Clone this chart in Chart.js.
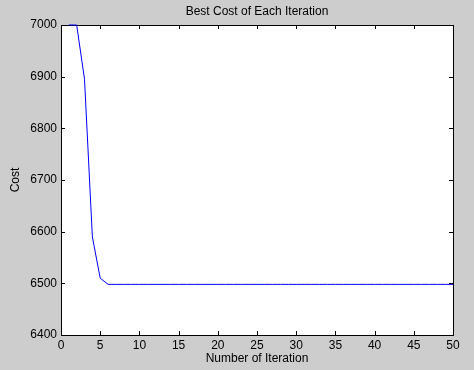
<!DOCTYPE html>
<html>
<head>
<meta charset="utf-8">
<style>
  html, body { margin: 0; padding: 0; background: #cdcdcd; }
  #wrap { width: 474px; height: 370px; }
</style>
<script src="https://cdn.jsdelivr.net/npm/chart.js@4/dist/chart.umd.min.js"></script>
</head>
<body>
<div id="wrap"><canvas id="costChart" width="474" height="370"></canvas></div>
<script>
// --- DATA ---
const iterations = [];
for (let i = 1; i <= 50; i++) iterations.push(i);
const bestCost = [
    7000, 7000, 6895, 6590, 6510, 6498, 6498, 6498, 6498, 6498,
    6498, 6498, 6498, 6498, 6498, 6498, 6498, 6498, 6498, 6498,
    6498, 6498, 6498, 6498, 6498, 6498, 6498, 6498, 6498, 6498,
    6498, 6498, 6498, 6498, 6498, 6498, 6498, 6498, 6498, 6498,
    6498, 6498, 6498, 6498, 6498, 6498, 6498, 6498, 6498, 6498
];
const xTicks = [0, 5, 10, 15, 20, 25, 30, 35, 40, 45, 50];
const yTicks = [6400, 6500, 6600, 6700, 6800, 6900, 7000];
const chartTitle = 'Best Cost of Each Iteration';

const FONT = "'Liberation Sans', Arial, sans-serif";

// white axes box + inward ticks on all four sides (MATLAB look), under the line
const matlabBox = {
    id: 'matlabBox',
    beforeDatasetsDraw(chart) {
        const { ctx, chartArea: a, scales } = chart;
        const len = 4;
        ctx.save();
        ctx.fillStyle = '#ffffff';
        ctx.fillRect(a.left, a.top, a.right - a.left, a.bottom - a.top);
        ctx.strokeStyle = '#000';
        ctx.lineWidth = 1;
        ctx.beginPath();
        xTicks.forEach(v => {
            const px = Math.round(scales.x.getPixelForValue(v)) + 0.5;
            ctx.moveTo(px, a.bottom); ctx.lineTo(px, a.bottom - len);
            ctx.moveTo(px, a.top); ctx.lineTo(px, a.top + len);
        });
        yTicks.forEach(v => {
            const py = Math.round(scales.y.getPixelForValue(v)) + 0.5;
            ctx.moveTo(a.left, py); ctx.lineTo(a.left + len, py);
            ctx.moveTo(a.right, py); ctx.lineTo(a.right - len, py);
        });
        ctx.stroke();
        ctx.strokeRect(Math.round(a.left) + 0.5, Math.round(a.top) + 0.5,
            Math.round(a.right - a.left), Math.round(a.bottom - a.top));

        // title centred over the axes box, like MATLAB
        ctx.fillStyle = '#000';
        ctx.font = '12px ' + FONT;
        ctx.textAlign = 'center';
        ctx.textBaseline = 'middle';
        ctx.fillText(chartTitle, (a.left + a.right) / 2, a.top - 13);
        ctx.restore();
    }
};

const ctx = document.getElementById('costChart').getContext('2d');
new Chart(ctx, {
    type: 'line',
    data: {
        labels: iterations,
        datasets: [{
            label: 'Best Cost',
            data: iterations.map((x, i) => ({ x: x, y: bestCost[i] })),
            borderColor: '#0000ff',
            borderWidth: 1,
            pointRadius: 0,
            tension: 0,
            fill: false,
            clip: 2
        }]
    },
    options: {
        responsive: false,
        animation: false,
        layout: { padding: { top: 25, right: 21, left: 0, bottom: 0 } },
        plugins: {
            legend: { display: false },
            tooltip: { enabled: false },
            title: { display: false }
        },
        scales: {
            x: {
                type: 'linear',
                min: 0, max: 50,
                afterBuildTicks: s => { s.ticks = xTicks.map(v => ({ value: v })); },
                afterFit: s => { s.height = 35; },
                grid: { display: false, drawTicks: false },
                border: { display: false },
                ticks: { color: '#000', font: { family: FONT, size: 12 }, padding: 3, maxRotation: 0 },
                title: {
                    display: true, text: 'Number of Iteration', color: '#000',
                    font: { family: FONT, size: 12 }, padding: { top: 0, bottom: 4 }
                }
            },
            y: {
                type: 'linear',
                min: 6400, max: 7000,
                afterBuildTicks: s => { s.ticks = yTicks.map(v => ({ value: v })); },
                afterFit: s => { s.width = 61; },
                grid: { display: false, drawTicks: false },
                border: { display: false },
                ticks: {
                    color: '#000', font: { family: FONT, size: 12 }, padding: 4,
                    callback: v => String(v)
                },
                title: {
                    display: true, text: 'Cost', color: '#000',
                    font: { family: FONT, size: 12 }, padding: { top: 8, bottom: 0 }
                }
            }
        }
    },
    plugins: [matlabBox]
});
</script>
</body>
</html>
